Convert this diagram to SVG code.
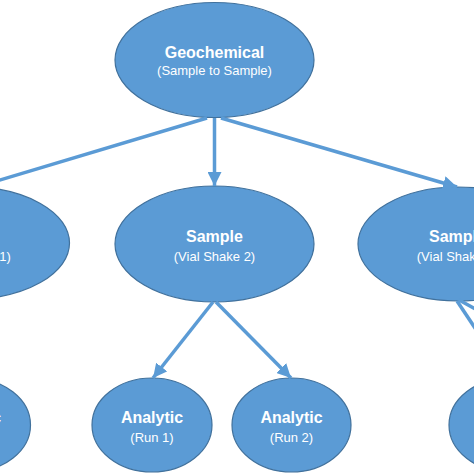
<svg xmlns="http://www.w3.org/2000/svg" width="474" height="474" viewBox="0 0 474 474">
<style>
.node ellipse{fill:#5b9bd5;stroke:#41719c;stroke-width:1.2}
.t{font-family:"Liberation Sans",Arial,sans-serif;fill:#ffffff;text-anchor:middle}
.b{font-weight:bold;font-size:16px}
.s{font-size:13px}
.conn line{stroke:#5b9bd5;stroke-width:3.5;fill:none}
</style>
<defs>
<marker id="ah" markerUnits="userSpaceOnUse" markerWidth="14" markerHeight="14" viewBox="0 0 12 12" refX="12" refY="6" orient="auto">
<path d="M0,0 L12,6 L0,12 Z" fill="#5b9bd5"/>
</marker>
</defs>
<rect width="474" height="474" fill="#ffffff"/>
<g id="geochemical" class="node">
<ellipse cx="214.5" cy="60" rx="99.5" ry="57.5"/>
<text class="t b" x="214.5" y="58">Geochemical</text>
<text class="t s" x="214.5" y="75">(Sample to Sample)</text>
</g>
<g id="sample1" class="node">
<ellipse cx="-30" cy="243" rx="99.5" ry="56"/>
<text class="t s" x="-30" y="261">(Vial Shake 1)</text>
</g>
<g id="sample2" class="node">
<ellipse cx="214.5" cy="244" rx="99.5" ry="58"/>
<text class="t b" x="214.5" y="242">Sample</text>
<text class="t s" x="214.5" y="261">(Vial Shake 2)</text>
</g>
<g id="sample3" class="node">
<ellipse cx="457.5" cy="244" rx="99.5" ry="57"/>
<text class="t b" x="457.5" y="242">Sample</text>
<text class="t s" x="457.5" y="261">(Vial Shake 3)</text>
</g>
<g id="analytic0" class="node">
<ellipse cx="-30" cy="425" rx="60.5" ry="47"/>
<text class="t b" x="-30" y="423">Analytic</text>
</g>
<g id="analytic1" class="node">
<ellipse cx="152" cy="425" rx="60" ry="47"/>
<text class="t b" x="152" y="423">Analytic</text>
<text class="t s" x="152" y="442">(Run 1)</text>
</g>
<g id="analytic2" class="node">
<ellipse cx="291.5" cy="425" rx="59.5" ry="47"/>
<text class="t b" x="291.5" y="423">Analytic</text>
<text class="t s" x="291.5" y="442">(Run 2)</text>
</g>
<g id="analytic3" class="node">
<ellipse cx="509" cy="425" rx="60" ry="47"/>
</g>
<g id="connectors" class="conn">
<line x1="207" y1="118" x2="-30" y2="189" marker-end="url(#ah)"/>
<line x1="214.5" y1="118" x2="214.5" y2="186" marker-end="url(#ah)"/>
<line x1="221" y1="118" x2="457" y2="187" marker-end="url(#ah)"/>
<line x1="213" y1="302" x2="153" y2="378" marker-end="url(#ah)"/>
<line x1="216" y1="302" x2="291" y2="378" marker-end="url(#ah)"/>
<line x1="457" y1="301" x2="509" y2="379" marker-end="url(#ah)"/>
<line x1="459" y1="300" x2="602" y2="378" marker-end="url(#ah)"/>
</g>
</svg>
